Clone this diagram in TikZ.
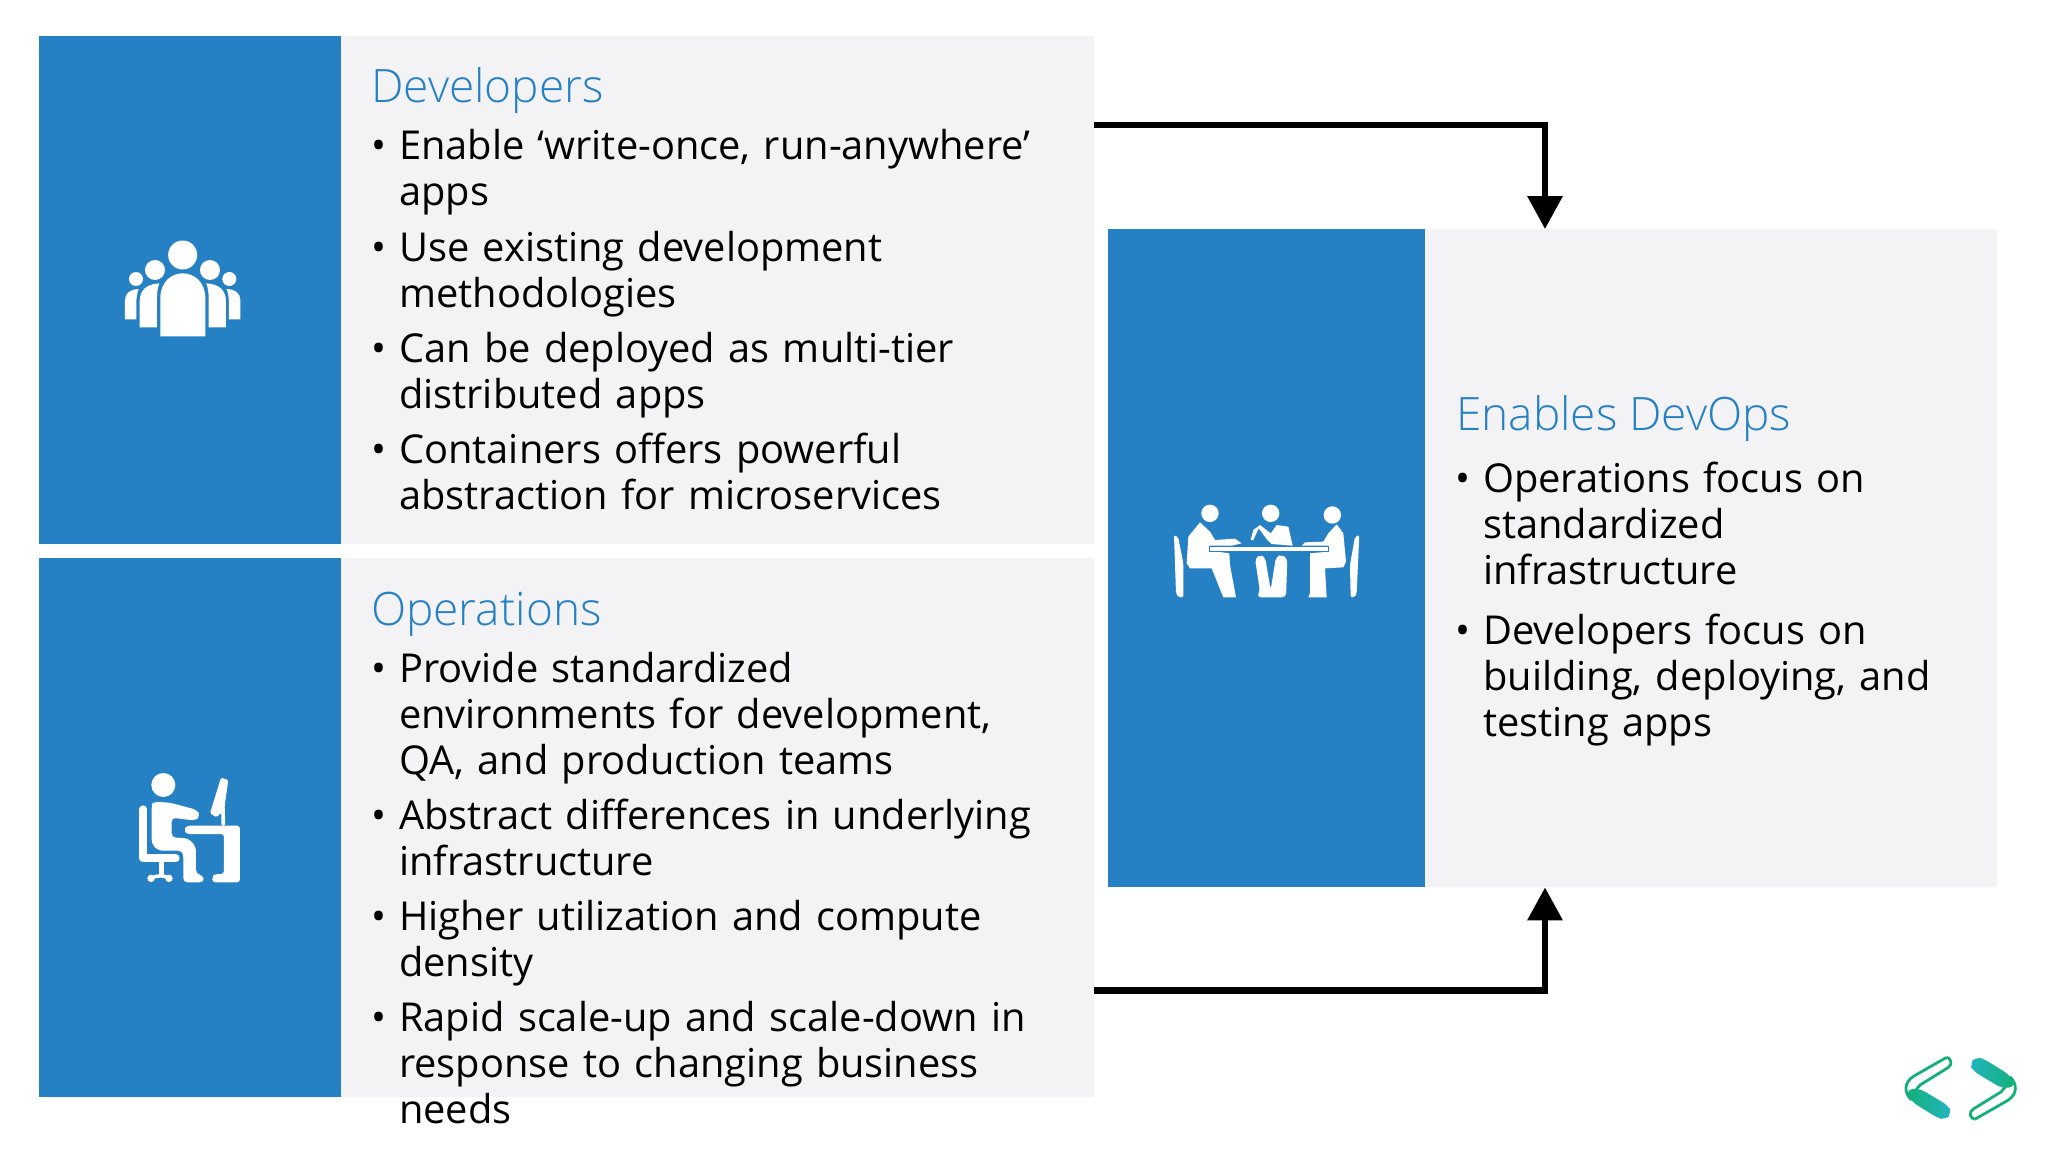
\documentclass[tikz,border=0pt]{standalone}
\usepackage{fontspec}
\usetikzlibrary{arrows.meta}
\setmainfont{Open Sans}
\newfontfamily\headfont{Open Sans Light}
\definecolor{brandblue}{HTML}{2681C4}
\definecolor{panelgray}{HTML}{F3F3F5}
\definecolor{logogreen}{HTML}{14B07A}
\definecolor{logoteal}{HTML}{22B5C0}
\tikzset{
  panelbox/.style={fill=panelgray,draw=none,anchor=north west,inner sep=0pt},
  bluebox/.style={fill=brandblue,draw=none,anchor=north west,inner sep=0pt},
  headtext/.style={anchor=base west,inner sep=0pt,text=brandblue,font=\headfont\fontsize{46}{46}\selectfont},
  bodytext/.style={anchor=base west,inner sep=0pt,text=black,align=left,text width=690pt,font=\fontsize{39.8}{46}\selectfont},
  bullettext/.style={anchor=base west,inner sep=0pt,text=black,font=\fontsize{39.8}{46}\selectfont},
  flowline/.style={draw=black,line width=6.5pt,-{Triangle[width=34pt,length=33pt]}},
  zoomthree/.style={x=0.3333pt,y=-0.3333pt},
}
\newcommand{\bulleted}[4]{%
  \node[bullettext] (#1b) at (#2-1,#3) {•};
  \node[bodytext] (#1) at (#2+27,#3) {#4};
}
\newcommand{\chevronshape}[2]{%
  \shade[left color=#1,right color=#2,rounded corners=6pt]
    (-124,0) -- (-37,52) -- (-27,75) -- (-47,95) -- (-72,87) -- (-147,40) -- (-164,5) -- cycle;
  \draw[logogreen,line width=2.8pt,line join=round]
    (-42,-93) -- (-140,-37) .. controls (-172,-18) and (-170,15) .. (-147,35);
  \draw[logogreen,line width=2.8pt,line join=round]
    (-42,-93) .. controls (-30,-92) and (-22,-72) .. (-38,-62) -- (-122,-10) -- (-147,20);
}
\begin{document}
\begin{tikzpicture}[x=1pt,y=-1pt]
\useasboundingbox (0,0) rectangle (2048,1152);
\fill[white] (0,0) rectangle (2048,1152);

% panels
\node[panelbox,minimum width=1055pt,minimum height=508pt] (devpanel) at (39,36) {};
\node[bluebox,minimum width=302pt,minimum height=508pt] (devblue) at (39,36) {};
\node[panelbox,minimum width=1055pt,minimum height=539pt] (opspanel) at (39,558) {};
\node[bluebox,minimum width=302pt,minimum height=539pt] (opsblue) at (39,558) {};
\node[panelbox,minimum width=889pt,minimum height=658pt] (dopanel) at (1108,229) {};
\node[bluebox,minimum width=317pt,minimum height=658pt] (doblue) at (1108,229) {};

% connectors
\draw[flowline] ([yshift=-89pt]devpanel.north east) -| ([xshift=437pt]dopanel.north west);
\draw[flowline] ([yshift=107pt]opspanel.south east) -| ([xshift=437pt]dopanel.south west);

% developers text
\node[headtext] (devhead) at (371,102.5) {Developers};
\bulleted{d1}{372}{159.5}{Enable ‘write-once, run-anywhere’\\apps}
\bulleted{d2}{372}{261}{Use existing development\\methodologies}
\bulleted{d3}{372}{362}{Can be deployed as multi-tier\\distributed apps}
\bulleted{d4}{372}{463}{Containers offers powerful\\abstraction for microservices}

% operations text
\node[headtext] (opshead) at (371,625) {Operations};
\bulleted{o1}{372}{682}{Provide standardized\\environments for development,\\QA, and production teams}
\bulleted{o2}{372}{829}{Abstract differences in underlying\\infrastructure}
\bulleted{o3}{372}{930}{Higher utilization and compute\\density}
\bulleted{o4}{372}{1031.5}{Rapid scale-up and scale-down in\\response to changing business\\needs}

% devops text
\node[headtext] (dohead) at (1456,430.5) {Enables DevOps};
\bulleted{r1}{1456}{492}{Operations focus on\\standardized\\infrastructure}
\bulleted{r2}{1456}{644}{Developers focus on\\building, deploying, and\\testing apps}

% people icon (crop coordinates, 3x)
\begin{scope}[shift={(100,210)},zoomthree]
  \fill[white] (248,135) circle[radius=14.5pt];
  \fill[white] (165,180) circle[radius=10pt];
  \fill[white] (330,180) circle[radius=10pt];
  \fill[white] (108,207) circle[radius=7pt];
  \fill[white] (388,207) circle[radius=7pt];
  \fill[white] (181,379) -- (181,265) .. controls (181,215) and (215,190) .. (248,190)
     .. controls (282,190) and (316,215) .. (316,265) -- (316,379) -- cycle;
  \fill[white] (119,352) -- (119,275) .. controls (119,240) and (140,222) .. (178,220)
     .. controls (174,230) and (171,245) .. (171,265) -- (171,352) -- cycle;
  \fill[white] (378,352) -- (378,275) .. controls (378,240) and (357,222) .. (319,220)
     .. controls (323,230) and (326,245) .. (326,265) -- (326,352) -- cycle;
  \fill[white] (75,328) -- (75,270) .. controls (75,250) and (90,238) .. (116,237)
     .. controls (111,250) and (109,265) .. (109,280) -- (109,328) -- cycle;
  \fill[white] (421,328) -- (421,270) .. controls (421,250) and (406,238) .. (380,237)
     .. controls (385,250) and (387,265) .. (387,280) -- (387,328) -- cycle;
\end{scope}

% desk worker icon
\begin{scope}[shift={(120,750)},zoomthree]
  \fill[white] (130,105) circle[radius=12pt];
  \fill[white,rounded corners=4pt] (100,155) -- (150,158) -- (232,180) -- (240,197) -- (228,212)
     -- (155,203) -- (155,262) -- (205,265) -- (228,290) -- (228,372) -- (250,376) -- (252,397)
     -- (190,397) -- (190,312) -- (185,302) -- (115,302) -- (95,282) -- (95,165) -- cycle;
  \draw[white,line width=8pt,line cap=round,line join=round] (70,178) -- (70,325) -- (167,325);
  \draw[white,line width=4.5pt] (125,332) -- (125,378);
  \draw[white,line width=3.5pt,line cap=round] (93,385) .. controls (110,375) and (135,375) .. (147,385);
  \fill[white] (93,385) circle[radius=3.7pt];
  \fill[white] (147,385) circle[radius=3.7pt];
  \fill[white,rounded corners=3pt] (192,240) -- (200,227) -- (360,227) -- (360,397) -- (277,397)
     -- (277,380) -- (285,372) -- (312,372) -- (312,252) -- (200,252) -- cycle;
  \fill[white,rounded corners=1.5pt] (303,83) -- (325,90) -- (314,168) -- (316,227) -- (304,227)
     -- (304,188) -- (290,202) -- (270,190) -- cycle;
\end{scope}

% meeting icon
\begin{scope}[shift={(1160,490)},zoomthree]
  \fill[white] (150,70) circle[radius=8.7pt];
  \fill[white] (332,70) circle[radius=8.7pt];
  \fill[white] (517,75) circle[radius=8.7pt];
  % left person
  \fill[white] (120,97) -- (150,125) -- (165,150) -- (225,146) -- (245,160) -- (215,167) -- (148,167)
     -- (180,186) -- (208,190) -- (210,225) -- (228,322) -- (190,322) -- (155,235) -- (90,235)
     -- (80,220) -- (85,140) -- cycle;
  % right person
  \fill[white] (530,103) -- (505,130) -- (490,155) -- (435,157) -- (425,167) -- (505,167) -- (505,185)
     -- (450,190) -- (450,310) -- (445,322) -- (500,322) -- (495,235) -- (550,232) -- (558,215)
     -- (550,130) -- cycle;
  % middle person
  \fill[white] (300,105) -- (280,120) -- (272,150) -- (280,150) -- (296,115) -- (322,150) -- (335,162)
     -- (398,167) -- (385,110) -- (350,105) -- (332,130) -- cycle;
  % table
  \filldraw[fill=white,draw=brandblue,line width=0.8pt] (148,168) -- (505,168) -- (505,185) -- (148,185) -- cycle;
  % middle legs
  \fill[white,rounded corners=4pt] (285,205) -- (300,195) -- (315,200) -- (332,300) -- (348,200) -- (365,194) -- (382,205)
     -- (378,322) -- (290,322) -- (300,305) -- cycle;
  % chairs
  \fill[white,rounded corners=2pt] (42,135) -- (54,140) -- (70,220) -- (70,322) -- (55,322) -- (48,310) -- cycle;
  \fill[white,rounded corners=2pt] (598,135) -- (585,140) -- (570,225) -- (572,322) -- (585,322) -- (590,310) -- cycle;
\end{scope}

% logo
\begin{scope}[shift={(1880,1040)},zoomthree]
  \begin{scope}[shift={(242,145)},zoomthree]
    \chevronshape{logogreen}{logoteal}
  \end{scope}
  \begin{scope}[shift={(242,145)},x=-0.3333pt,y=0.3333pt]
    \chevronshape{logoteal}{logogreen}
  \end{scope}
\end{scope}
\end{tikzpicture}
\end{document}
